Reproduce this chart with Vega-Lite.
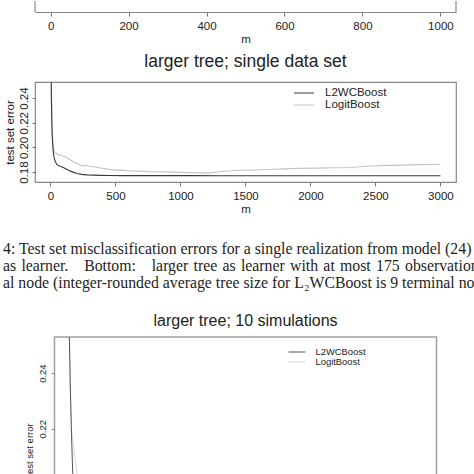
{
  "$schema": "https://vega.github.io/schema/vega-lite/v6.json",
  "background": "white",
  "padding": {"left": 3, "top": 0, "right": 0, "bottom": 0},
  "spacing": 70,
  "center": true,
  "bounds": "flush",
  "resolve": {"scale": {"color": "independent"}},
  "config": {
    "font": "Liberation Sans",
    "view": {"stroke": "#888888", "strokeWidth": 1.2},
    "axis": {
      "grid": false, "domain": false,
      "tickColor": "#777777", "tickSize": 4, "labelPadding": 4,
      "labelColor": "#222222", "titleColor": "#222222",
      "labelFontSize": 11.5, "titleFontSize": 11.5, "titleFontWeight": "normal"
    },
    "axisX": {"labelAngle": 0, "titlePadding": 2, "format": "d"},
    "axisY": {"labelAngle": -90, "labelAlign": "center", "labelBaseline": "bottom", "tickSize": 3, "labelPadding": 3, "titlePadding": 3},
    "title": {"fontWeight": "normal", "color": "#222222", "anchor": "middle", "frame": "group", "baseline": "alphabetic"},
    "legend": {"title": null, "padding": 0, "rowPadding": 0, "labelColor": "#222222", "symbolType": "stroke", "symbolStrokeWidth": 1.2}
  },
  "vconcat": [
    {
      "width": 421,
      "height": 11,
      "view": {"stroke": null},
      "data": {"values": [{}]},
      "layer": [
        {
          "mark": {"type": "rule", "color": "#888888", "strokeWidth": 1.2},
          "encoding": {
            "x": {"datum": -40, "type": "quantitative",
              "scale": {"domain": [-40, 1040], "nice": false, "zero": false},
              "axis": {"values": [0, 200, 400, 600, 800, 1000], "title": "m", "domain": true, "domainColor": "#888888", "domainWidth": 1.2}}
          }
        },
        {
          "mark": {"type": "rule", "color": "#888888", "strokeWidth": 1.2},
          "encoding": {"x": {"datum": 1040, "type": "quantitative"}}
        }
      ]
    },
    {
      "width": 421,
      "height": 100,
      "title": {"text": "larger tree; single data set", "fontSize": 17.5, "offset": 12},
      "data": {"values": [
        {"m": 1, "error": 0.31, "method": "LogitBoost"},
        {"m": 4, "error": 0.275, "method": "LogitBoost"},
        {"m": 7, "error": 0.25, "method": "LogitBoost"},
        {"m": 10, "error": 0.232, "method": "LogitBoost"},
        {"m": 14, "error": 0.215, "method": "LogitBoost"},
        {"m": 18, "error": 0.205, "method": "LogitBoost"},
        {"m": 22, "error": 0.2, "method": "LogitBoost"},
        {"m": 27, "error": 0.197, "method": "LogitBoost"},
        {"m": 35, "error": 0.1955, "method": "LogitBoost"},
        {"m": 45, "error": 0.1952, "method": "LogitBoost"},
        {"m": 55, "error": 0.1945, "method": "LogitBoost"},
        {"m": 64, "error": 0.1938, "method": "LogitBoost"},
        {"m": 78, "error": 0.1942, "method": "LogitBoost"},
        {"m": 90, "error": 0.1934, "method": "LogitBoost"},
        {"m": 110, "error": 0.1925, "method": "LogitBoost"},
        {"m": 128, "error": 0.1916, "method": "LogitBoost"},
        {"m": 150, "error": 0.19, "method": "LogitBoost"},
        {"m": 165, "error": 0.1892, "method": "LogitBoost"},
        {"m": 179, "error": 0.1881, "method": "LogitBoost"},
        {"m": 200, "error": 0.1872, "method": "LogitBoost"},
        {"m": 220, "error": 0.1862, "method": "LogitBoost"},
        {"m": 256, "error": 0.1849, "method": "LogitBoost"},
        {"m": 280, "error": 0.1855, "method": "LogitBoost"},
        {"m": 300, "error": 0.1848, "method": "LogitBoost"},
        {"m": 333, "error": 0.1843, "method": "LogitBoost"},
        {"m": 360, "error": 0.1838, "method": "LogitBoost"},
        {"m": 385, "error": 0.1833, "method": "LogitBoost"},
        {"m": 420, "error": 0.1828, "method": "LogitBoost"},
        {"m": 450, "error": 0.1822, "method": "LogitBoost"},
        {"m": 480, "error": 0.1818, "method": "LogitBoost"},
        {"m": 513, "error": 0.1814, "method": "LogitBoost"},
        {"m": 550, "error": 0.1816, "method": "LogitBoost"},
        {"m": 580, "error": 0.1812, "method": "LogitBoost"},
        {"m": 641, "error": 0.1809, "method": "LogitBoost"},
        {"m": 720, "error": 0.1806, "method": "LogitBoost"},
        {"m": 821, "error": 0.1801, "method": "LogitBoost"},
        {"m": 897, "error": 0.1802, "method": "LogitBoost"},
        {"m": 1000, "error": 0.1798, "method": "LogitBoost"},
        {"m": 1100, "error": 0.1796, "method": "LogitBoost"},
        {"m": 1205, "error": 0.1792, "method": "LogitBoost"},
        {"m": 1300, "error": 0.1803, "method": "LogitBoost"},
        {"m": 1410, "error": 0.1813, "method": "LogitBoost"},
        {"m": 1550, "error": 0.1817, "method": "LogitBoost"},
        {"m": 1667, "error": 0.1821, "method": "LogitBoost"},
        {"m": 1800, "error": 0.1826, "method": "LogitBoost"},
        {"m": 1923, "error": 0.183, "method": "LogitBoost"},
        {"m": 2050, "error": 0.1832, "method": "LogitBoost"},
        {"m": 2180, "error": 0.1835, "method": "LogitBoost"},
        {"m": 2300, "error": 0.1838, "method": "LogitBoost"},
        {"m": 2436, "error": 0.1848, "method": "LogitBoost"},
        {"m": 2560, "error": 0.1853, "method": "LogitBoost"},
        {"m": 2692, "error": 0.1857, "method": "LogitBoost"},
        {"m": 2850, "error": 0.1861, "method": "LogitBoost"},
        {"m": 3000, "error": 0.1864, "method": "LogitBoost"},
        {"m": 1, "error": 0.31, "method": "L2WCBoost"},
        {"m": 4, "error": 0.27, "method": "L2WCBoost"},
        {"m": 7, "error": 0.24, "method": "L2WCBoost"},
        {"m": 10, "error": 0.222, "method": "L2WCBoost"},
        {"m": 13, "error": 0.21, "method": "L2WCBoost"},
        {"m": 17, "error": 0.203, "method": "L2WCBoost"},
        {"m": 21, "error": 0.197, "method": "L2WCBoost"},
        {"m": 26, "error": 0.193, "method": "L2WCBoost"},
        {"m": 32, "error": 0.19, "method": "L2WCBoost"},
        {"m": 40, "error": 0.188, "method": "L2WCBoost"},
        {"m": 50, "error": 0.186, "method": "L2WCBoost"},
        {"m": 64, "error": 0.1852, "method": "L2WCBoost"},
        {"m": 75, "error": 0.1848, "method": "L2WCBoost"},
        {"m": 90, "error": 0.1842, "method": "L2WCBoost"},
        {"m": 103, "error": 0.1835, "method": "L2WCBoost"},
        {"m": 120, "error": 0.1826, "method": "L2WCBoost"},
        {"m": 140, "error": 0.1815, "method": "L2WCBoost"},
        {"m": 154, "error": 0.1808, "method": "L2WCBoost"},
        {"m": 175, "error": 0.18, "method": "L2WCBoost"},
        {"m": 205, "error": 0.1789, "method": "L2WCBoost"},
        {"m": 240, "error": 0.1782, "method": "L2WCBoost"},
        {"m": 282, "error": 0.1778, "method": "L2WCBoost"},
        {"m": 330, "error": 0.1776, "method": "L2WCBoost"},
        {"m": 385, "error": 0.1774, "method": "L2WCBoost"},
        {"m": 450, "error": 0.1773, "method": "L2WCBoost"},
        {"m": 550, "error": 0.1772, "method": "L2WCBoost"},
        {"m": 700, "error": 0.1772, "method": "L2WCBoost"},
        {"m": 900, "error": 0.1772, "method": "L2WCBoost"},
        {"m": 1100, "error": 0.1772, "method": "L2WCBoost"},
        {"m": 1300, "error": 0.1771, "method": "L2WCBoost"},
        {"m": 1500, "error": 0.1771, "method": "L2WCBoost"},
        {"m": 1700, "error": 0.1771, "method": "L2WCBoost"},
        {"m": 2000, "error": 0.1771, "method": "L2WCBoost"},
        {"m": 2300, "error": 0.1771, "method": "L2WCBoost"},
        {"m": 2600, "error": 0.1771, "method": "L2WCBoost"},
        {"m": 3000, "error": 0.1771, "method": "L2WCBoost"}
      ]},
      "mark": {"type": "line", "clip": true, "strokeWidth": 1.1},
      "encoding": {
        "x": {"field": "m", "type": "quantitative",
          "scale": {"domain": [-119, 3120], "nice": false, "zero": false},
          "axis": {"values": [0, 500, 1000, 1500, 2000, 2500, 3000], "title": "m"}},
        "y": {"field": "error", "type": "quantitative",
          "scale": {"domain": [0.172, 0.253], "nice": false, "zero": false},
          "axis": {"values": [0.18, 0.2, 0.22, 0.24], "format": ".2f", "title": "test set error"}},
        "color": {"field": "method", "type": "nominal",
          "scale": {"domain": ["L2WCBoost", "LogitBoost"], "range": ["#3a3a3a", "#c4c4c4"]},
          "legend": {"orient": "none", "legendX": 258, "legendY": 6.5, "symbolSize": 400, "clipHeight": 9, "labelFontSize": 11.5, "labelOffset": 10}}
      }
    },
    {
      "width": 485,
      "height": 15,
      "view": {"stroke": null},
      "data": {"values": [
        {"line": 1, "text": "4: Test set misclassification errors for a single realization from model (24)"},
        {"line": 2, "text": "\u2009as\u2004learner.\u2002\u2002Bottom:\u2002\u2002larger\u2004tree\u2004as\u2004learner\u2004with\u2004at\u2004most\u2004175\u2004observations"},
        {"line": 3, "text": "al node (integer-rounded average tree size for L\u2082WCBoost is 9 terminal nodes)"}
      ]},
      "mark": {"type": "text", "align": "left", "baseline": "middle", "font": "Liberation Serif", "fontSize": 15.8, "color": "#1e1e1e"},
      "encoding": {
        "x": {"datum": 0, "type": "quantitative", "scale": {"domain": [0, 1], "nice": false}, "axis": null},
        "y": {"field": "line", "type": "quantitative",
          "scale": {"domain": [1.176, 2.059], "reverse": true, "nice": false, "zero": false}, "axis": null},
        "text": {"field": "text"}
      }
    },
    {
      "width": 382,
      "height": 225,
      "view": {"stroke": "#a0a0a0", "strokeWidth": 1.5},
      "title": {"text": "larger tree; 10 simulations", "fontSize": 16, "offset": 8},
      "data": {"values": [
        {"m": 1, "error": 0.3, "method": "LogitBoost"},
        {"m": 4, "error": 0.27, "method": "LogitBoost"},
        {"m": 7, "error": 0.253, "method": "LogitBoost"},
        {"m": 15, "error": 0.235, "method": "LogitBoost"},
        {"m": 25, "error": 0.22, "method": "LogitBoost"},
        {"m": 40, "error": 0.214, "method": "LogitBoost"},
        {"m": 55, "error": 0.209, "method": "LogitBoost"},
        {"m": 80, "error": 0.201, "method": "LogitBoost"},
        {"m": 120, "error": 0.195, "method": "LogitBoost"},
        {"m": 200, "error": 0.19, "method": "LogitBoost"},
        {"m": 400, "error": 0.186, "method": "LogitBoost"},
        {"m": 800, "error": 0.1845, "method": "LogitBoost"},
        {"m": 1500, "error": 0.1845, "method": "LogitBoost"},
        {"m": 2200, "error": 0.1852, "method": "LogitBoost"},
        {"m": 3000, "error": 0.186, "method": "LogitBoost"},
        {"m": 1, "error": 0.3, "method": "L2WCBoost"},
        {"m": 4, "error": 0.27, "method": "L2WCBoost"},
        {"m": 7, "error": 0.253, "method": "L2WCBoost"},
        {"m": 15, "error": 0.235, "method": "L2WCBoost"},
        {"m": 25, "error": 0.218, "method": "L2WCBoost"},
        {"m": 36, "error": 0.2037, "method": "L2WCBoost"},
        {"m": 50, "error": 0.196, "method": "L2WCBoost"},
        {"m": 70, "error": 0.19, "method": "L2WCBoost"},
        {"m": 100, "error": 0.186, "method": "L2WCBoost"},
        {"m": 150, "error": 0.183, "method": "L2WCBoost"},
        {"m": 250, "error": 0.181, "method": "L2WCBoost"},
        {"m": 400, "error": 0.1795, "method": "L2WCBoost"},
        {"m": 700, "error": 0.179, "method": "L2WCBoost"},
        {"m": 1000, "error": 0.1788, "method": "L2WCBoost"},
        {"m": 1500, "error": 0.1786, "method": "L2WCBoost"},
        {"m": 2000, "error": 0.1786, "method": "L2WCBoost"},
        {"m": 2500, "error": 0.1786, "method": "L2WCBoost"},
        {"m": 3000, "error": 0.1786, "method": "L2WCBoost"}
      ]},
      "mark": {"type": "line", "clip": true, "strokeWidth": 1},
      "encoding": {
        "x": {"field": "m", "type": "quantitative",
          "scale": {"domain": [-119, 3120], "nice": false, "zero": false},
          "axis": {"values": [0, 500, 1000, 1500, 2000, 2500, 3000], "title": "m", "labelFontSize": 9.5, "titleFontSize": 9.5}},
        "y": {"field": "error", "type": "quantitative",
          "scale": {"domain": [0.172, 0.253], "nice": false, "zero": false},
          "axis": {"values": [0.18, 0.2, 0.22, 0.24], "format": ".2f", "title": "test set error", "labelFontSize": 9.5, "titleFontSize": 9.5, "labelPadding": 4, "titlePadding": 3}},
        "color": {"field": "method", "type": "nominal",
          "scale": {"domain": ["L2WCBoost", "LogitBoost"], "range": ["#555555", "#d8d8d8"]},
          "legend": {"orient": "none", "legendX": 233, "legendY": 11.5, "symbolSize": 289, "clipHeight": 7, "labelFontSize": 9.4, "labelOffset": 9}}
      }
    }
  ]
}
